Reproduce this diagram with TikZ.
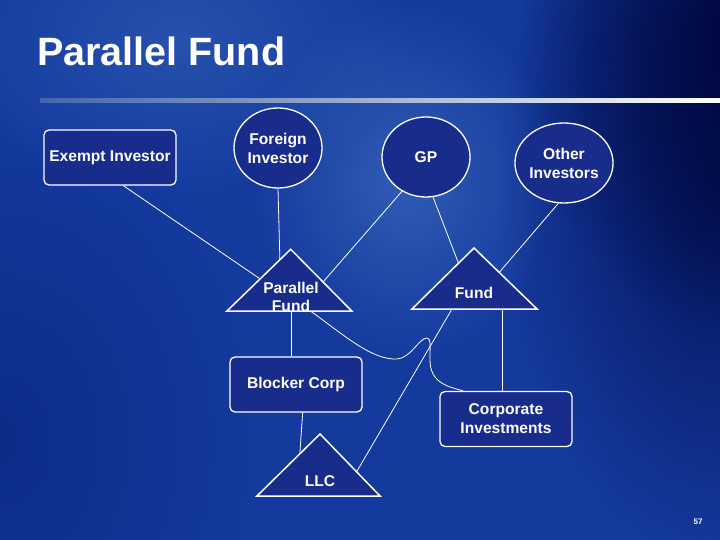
\documentclass[tikz,border=0pt]{standalone}
\usepackage{fontspec}
\setmainfont{Liberation Sans}
\usetikzlibrary{fadings,calc,shapes.geometric}
\definecolor{bgbase}{RGB}{20,58,158}
\definecolor{bgdark}{RGB}{0,6,62}
\definecolor{bgleft}{RGB}{8,38,128}
\definecolor{bglight}{RGB}{85,135,210}
\definecolor{nodefill}{RGB}{24,44,140}
\definecolor{linegray}{RGB}{70,100,170}
\tikzfading[name=softspot, inner color=transparent!0, outer color=transparent!100]
\begin{document}
\begin{tikzpicture}[x=1pt,y=-1pt,
  box/.style={draw=white, line width=1.3pt, fill=nodefill, rounded corners=5pt,
    minimum width=132pt, minimum height=55pt, inner sep=0pt, align=center,
    text=white, font=\fontsize{15.6}{19}\selectfont\bfseries},
  oval/.style={ellipse, draw=white, line width=1.3pt, fill=nodefill,
    minimum width=88pt, minimum height=80pt, inner sep=0pt, align=center,
    text=white, font=\fontsize{15.6}{19}\selectfont\bfseries},
  tri/.style={draw=white, line width=1.5pt, fill=nodefill, line join=miter},
  lbl/.style={text=white, align=center, inner sep=0pt, font=\fontsize{15.6}{18}\selectfont\bfseries},
  conn/.style={draw=white, line width=0.8pt}]
\useasboundingbox (0,0) rectangle (720,540);
\begin{scope}
\clip (0,0) rectangle (720,540);
\fill[bgbase] (0,0) rectangle (720,540);
\fill[bgleft, opacity=0.7, path fading=softspot] (-250,120) rectangle (250,760);
\fill[bglight, opacity=0.45, path fading=softspot] (250,0) rectangle (560,360);
\fill[bglight, opacity=0.3, path fading=softspot] (-60,-120) rectangle (420,200);
\fill[bgdark, opacity=0.75, path fading=softspot] (500,-200) rectangle (940,560);
\fill[bgdark, path fading=softspot] (520,-260) rectangle (960,330);
\end{scope}
% title
\node[anchor=base west, inner sep=0pt, text=white, font=\fontsize{39.5}{44}\selectfont\bfseries] (title) at (37,66) {Parallel Fund};
\shade[left color=linegray, right color=white] (40,99) rectangle (720,103);
% nodes
\node[box] (exempt) at (110,157.5) {Exempt Investor};
\node[oval] (foreign) at (278,148) {Foreign\\Investor};
\node[oval] (gp) at (426,157) {GP};
\node[oval] (other) at (564,163) {Other\\Investors};
\node[box] (blocker) at (296,384.5) {Blocker Corp};
\node[box] (corp) at (506,419) {Corporate\\Investments};
% triangles
\coordinate (pfT) at (290.7,249.3);
\coordinate (pfL) at (227,311);
\coordinate (pfR) at (351.7,311);
\coordinate (fT) at (474,248);
\coordinate (fL) at (412,309);
\coordinate (fR) at (537,309);
\coordinate (lT) at (320,434);
\coordinate (lL) at (257,496);
\coordinate (lR) at (380,496);
% connectors
\draw[conn] ($(exempt.south west)!0.6!(exempt.south east)$) -- ($(pfL)!0.52!(pfT)$);
\draw[conn] (foreign.south) -- ($(pfL)!0.83!(pfT)$);
\draw[conn] (gp.235) -- ($(pfR)!0.47!(pfT)$);
\draw[conn] (gp.280) -- ($(fL)!0.75!(fT)$);
\draw[conn] (other.262) -- ($(fR)!0.6!(fT)$);
\coordinate (pfB) at ($(pfL)!0.52!(pfR)$);
\draw[conn] (pfB) -- (pfB |- blocker.north);
\coordinate (fB) at ($(fL)!0.72!(fR)$);
\draw[conn] (fB) -- (fB |- corp.north);
\draw[conn] ($(fL)!0.32!(fR)$) -- ($(lR)!0.39!(lT)$);
\draw[conn] ($(blocker.south west)!0.55!(blocker.south east)$) -- ($(lL)!0.68!(lT)$);
\coordinate (cs) at ($(pfL)!0.67!(pfR)$);
\coordinate (ce) at ($(corp.north west)+(24,0)$);
\draw[conn] (cs) .. controls (345,336) and (372,360) .. (397,359)
  .. controls (411,358) and (419,338) .. (427,338)
  .. controls (431,338) and (430,346) .. (430,360)
  .. controls (430,384) and (450,387) .. (ce);
% triangles drawn
\filldraw[tri] (pfL) -- (pfT) -- (pfR) -- cycle;
\filldraw[tri] (fL) -- (fT) -- (fR) -- cycle;
\filldraw[tri] (lL) -- (lT) -- (lR) -- cycle;
\node[lbl] (pftext) at (291,297) {Parallel\\Fund};
\node[lbl] (fundtext) at (474,293) {Fund};
\node[lbl] (llctext) at (320,481) {LLC};
\node[text=white, inner sep=0pt, font=\fontsize{8}{9}\selectfont\bfseries] (page) at (698,522) {57};
\end{tikzpicture}
\end{document}
